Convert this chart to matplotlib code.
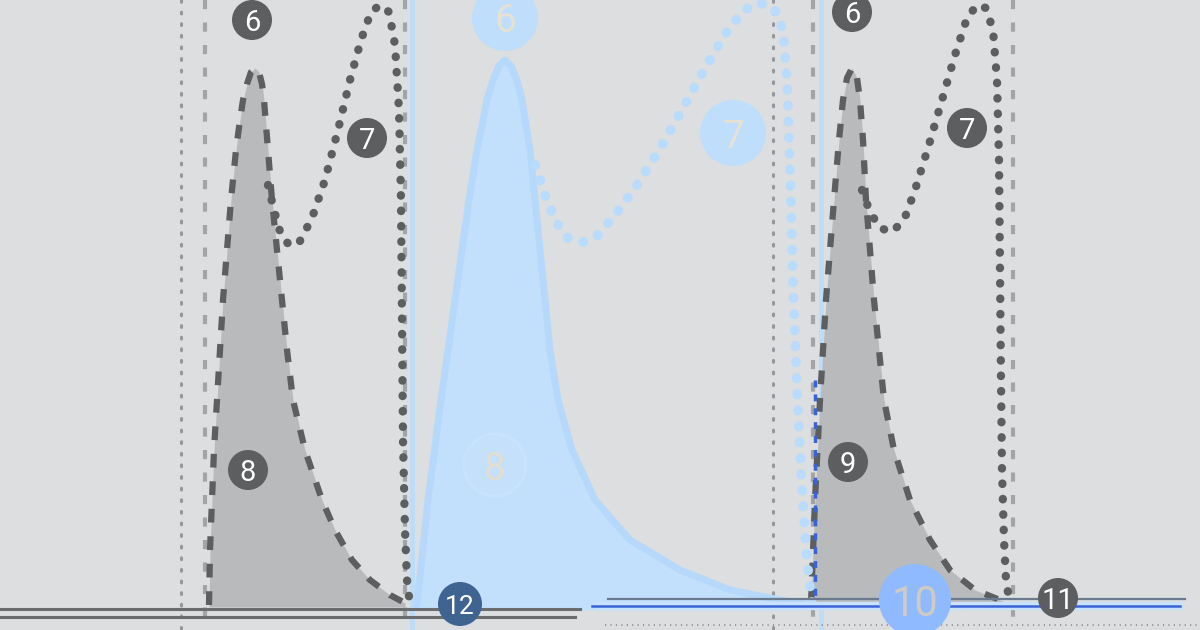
import matplotlib
matplotlib.use("Agg")
import matplotlib.pyplot as plt
from matplotlib.patches import Circle

# ---------------- data (pixel-space readings from the reference) ----------------
left_peak_x = [209, 210, 212, 214, 217, 220, 223, 227, 231, 236, 240, 243, 247, 251, 255, 259, 262, 264, 268, 272, 277,
               282, 287, 293, 305, 322, 335, 352, 370, 390, 405]
left_peak_y = [605, 550, 500, 450, 400, 350, 300, 250, 200, 150, 120, 100, 84, 72, 68, 72, 84, 100, 150, 200, 250,
               300, 350, 400, 450, 500, 530, 560, 580, 595, 603]

mid_peak_x = [417, 428, 441, 455, 469, 477, 482, 487, 493, 499, 505, 511, 517, 522, 526, 530, 535, 545, 550, 558, 572,
              595, 630, 680, 730, 780, 805]
mid_peak_y = [605, 500, 400, 300, 200, 150, 125, 100, 80, 66, 60, 66, 80, 100, 125, 150, 200, 300, 350, 400, 450,
              500, 540, 570, 590, 600, 604]

right_peak_x = [811, 815, 820, 826, 834, 839, 843, 847, 852, 857, 860, 863, 866, 874, 884, 894, 910, 930, 950, 975, 1005]
right_peak_y = [604, 500, 400, 300, 200, 140, 100, 78, 68, 78, 100, 140, 200, 300, 400, 450, 500, 540, 570, 590, 602]

left_dots_x = [268, 274, 281, 290, 300, 312, 325, 338, 350, 361, 371, 380, 389, 395, 399, 401, 402, 403, 405, 407, 410]
left_dots_y = [185, 210, 235, 246, 241, 218, 180, 130, 80, 40, 12, 5, 12, 45, 110, 200, 320, 440, 530, 580, 605]

mid_dots_x = [535, 545, 556, 568, 583, 598, 615, 635, 658, 682, 705, 726, 744, 760, 774, 783, 787, 790, 793, 797, 802, 807, 812]
mid_dots_y = [165, 195, 222, 238, 242, 235, 215, 188, 152, 110, 68, 33, 10, 3, 8, 30, 80, 170, 280, 390, 490, 560, 605]

right_dots_x = [862, 870, 880, 892, 904, 915, 928, 942, 955, 967, 977, 986, 993, 997, 999, 1000, 1001, 1002, 1004, 1006, 1010]
right_dots_y = [190, 212, 228, 232, 220, 190, 148, 100, 55, 18, 5, 8, 30, 80, 160, 270, 380, 470, 540, 580, 605]

labels_text = ["6", "7", "8", "12", "6", "7", "8", "10", "6", "7", "9", "11"]
labels_x = [252, 367, 248, 460, 505, 733, 495, 915, 852, 967, 848, 1058]
labels_y = [20, 138, 470, 604, 18, 133, 465, 600, 12, 128, 462, 598]
labels_kind = ["dark", "dark", "dark", "navy", "light", "light", "ring", "blue", "dark", "dark", "dark", "dark"]

vline_x = [181, 205, 405, 412, 773, 813, 821, 1013]
vline_kind = ["dots", "dash", "dash", "blue", "dots", "dash", "blue", "dash"]

# ---------------- style ----------------
BG = "#dcdedf"
GRAY_FILL = "#b8babc"
DARK = "#5c5e60"
BLUE_FILL = "#c2e0fc"
BLUE_LINE = "#b6d8fb"

plt.rcParams["font.family"] = ["Roboto", "DejaVu Sans"]

fig = plt.figure(figsize=(12, 6.3), dpi=100, facecolor=BG)
ax = fig.add_axes([0, 0, 1, 1])
ax.set_facecolor(BG)
ax.set_xlim(0, 1200)
ax.set_ylim(630, 0)
ax.axis("off")

# vertical guide lines
for x, k in zip(vline_x, vline_kind):
    if k == "dots":
        ax.plot([x, x], [0, 630], color="#95979a", lw=2.2, ls=(0, (0.6, 3.2)),
                dash_capstyle="round", zorder=1)
    elif k == "dash":
        ax.plot([x, x], [0, 630], color="#a2a4a6", lw=3.0, ls=(0, (2.2, 3.2)), zorder=1)
    else:
        ax.plot([x, x], [0, 630], color="#bcdcf8", lw=3.5, zorder=1)

# peaks
ax.fill_between(left_peak_x, left_peak_y, 607, color=GRAY_FILL, zorder=2, lw=0)
ax.plot(left_peak_x, left_peak_y, color=DARK, lw=4.5, ls=(0, (2.2, 2.2)), zorder=3)

ax.fill_between(mid_peak_x, mid_peak_y, 610, color=BLUE_FILL, zorder=2, lw=0)
ax.plot(mid_peak_x, mid_peak_y, color=BLUE_LINE, lw=5, zorder=3, solid_capstyle="round",
        solid_joinstyle="round")

ax.fill_between(right_peak_x, right_peak_y, 607, color=GRAY_FILL, zorder=2, lw=0)
ax.plot(right_peak_x, right_peak_y, color=DARK, lw=4.5, ls=(0, (2.2, 2.2)), zorder=3)
ax.plot([815, 815], [380, 605], color="#3a63d6", lw=2.5, ls=(0, (2, 2)), zorder=3)

# dotted curves
ax.plot(left_dots_x, left_dots_y, color=DARK, lw=6, ls=(0, (0.05, 1.8)),
        dash_capstyle="round", zorder=4)
ax.plot(mid_dots_x, mid_dots_y, color="#b9dbfd", lw=7, ls=(0, (0.05, 1.6)),
        dash_capstyle="round", zorder=4)
ax.plot(right_dots_x, right_dots_y, color=DARK, lw=6, ls=(0, (0.05, 1.8)),
        dash_capstyle="round", zorder=4)

# horizontal base lines
ax.plot([0, 580], [609, 609], color="#6a6c6e", lw=2.2, zorder=5)
ax.plot([0, 575], [617, 617], color="#6a6c6e", lw=2.2, zorder=5)
ax.plot([600, 1180], [606, 606], color="#c8e2fc", lw=6, zorder=5)
ax.plot([608, 1185], [599, 599], color="#6c7a8e", lw=1.6, zorder=6)
ax.plot([592, 1180], [606, 606], color="#3a63d6", lw=1.8, zorder=6)
ax.plot([605, 1200], [625, 625], color="#9c9ea0", lw=1.5, ls=(0, (0.6, 2.0)), zorder=5)

# numbered circles
styles = {
    "dark": dict(r=20, fc=DARK, ec="none", tc="white", fs=21),
    "navy": dict(r=22, fc="#3f6492", ec="none", tc="white", fs=19),
    "light": dict(r=33, fc="#bfdefc", ec="none", tc="#e6e1d2", fs=28),
    "ring": dict(r=31, fc="#c4e0fb", ec="#c9e3fc", tc="#e3ded0", fs=28),
    "blue": dict(r=36, fc="#8fbaff", ec="none", tc="#cfcbc0", fs=30),
}
for t, x, y, k in zip(labels_text, labels_x, labels_y, labels_kind):
    s = styles[k]
    ax.add_patch(Circle((x, y), s["r"], facecolor=s["fc"], edgecolor=s["ec"], lw=2, zorder=7))
    ax.text(x, y, t, color=s["tc"], fontsize=s["fs"], ha="center", va="center_baseline",
            zorder=8)

fig.savefig("out.png", dpi=100, facecolor=BG)
